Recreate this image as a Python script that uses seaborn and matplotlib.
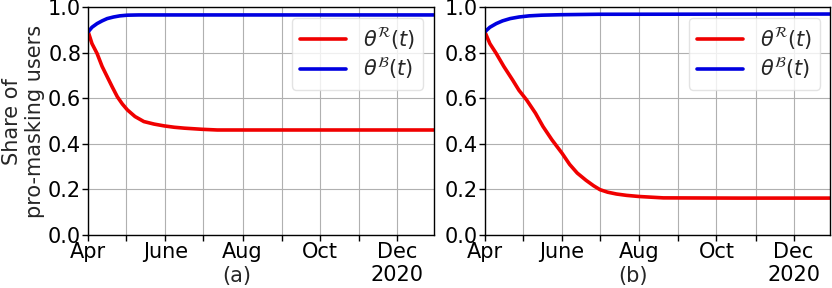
import pandas as pd
import seaborn as sns
import matplotlib.pyplot as plt
import matplotlib.dates as mdates

# values (days after 1 Apr 2020)
days_a_red = [0, 3, 7, 11, 15, 19, 23, 27, 31, 37, 44, 52, 60, 68, 76, 90, 102, 150, 200, 273]
red_a = [0.892, 0.84, 0.797, 0.74, 0.695, 0.65, 0.607, 0.575, 0.549, 0.52, 0.498, 0.487, 0.479, 0.473, 0.469, 0.464, 0.461, 0.461, 0.461, 0.461]
days_a_blue = [0, 3, 7, 11, 15, 20, 25, 31, 40, 60, 273]
blue_a = [0.892, 0.912, 0.928, 0.94, 0.95, 0.957, 0.962, 0.965, 0.966, 0.966, 0.966]

days_b_red = [0, 4, 9, 15, 22, 27, 33, 40, 46, 53, 61, 67, 73, 80, 86, 91, 97, 104, 112, 122, 141, 200, 273]
red_b = [0.892, 0.84, 0.797, 0.74, 0.68, 0.635, 0.593, 0.535, 0.476, 0.418, 0.359, 0.31, 0.272, 0.24, 0.216, 0.199, 0.188, 0.18, 0.174, 0.169, 0.163, 0.162, 0.162]
days_b_blue = [0, 4, 9, 14, 20, 27, 35, 45, 60, 90, 273]
blue_b = [0.892, 0.912, 0.928, 0.94, 0.95, 0.957, 0.962, 0.965, 0.967, 0.969, 0.97]

tick_dates = pd.date_range("2020-04-01", "2020-12-01", freq="MS")
tick_labels = ["Apr", "", "June", "", "Aug", "", "Oct", "", "Dec\n2020"]
panel_tags = ["(a)", "(b)"]

start = pd.Timestamp("2020-04-01")


def make_df(d_red, v_red, d_blue, v_blue):
    r = pd.DataFrame({"date": start + pd.to_timedelta(d_red, unit="D"), "share": v_red,
                      "series": r"$\theta^{\mathcal{R}}(t)$"})
    b = pd.DataFrame({"date": start + pd.to_timedelta(d_blue, unit="D"), "share": v_blue,
                      "series": r"$\theta^{\mathcal{B}}(t)$"})
    return pd.concat([r, b], ignore_index=True)


frames = [make_df(days_a_red, red_a, days_a_blue, blue_a),
          make_df(days_b_red, red_b, days_b_blue, blue_b)]

sns.set_style("ticks")
plt.rcParams["font.family"] = ["DejaVu Sans"]
plt.rcParams["font.size"] = 15

fig, axes = plt.subplots(1, 2, figsize=(8.32, 2.88), dpi=100)
fig.subplots_adjust(left=0.106, right=0.998, top=0.975, bottom=0.184, wspace=0.148)

palette = {r"$\theta^{\mathcal{R}}(t)$": "#f00000", r"$\theta^{\mathcal{B}}(t)$": "#0000e0"}

for ax, df, tag in zip(axes, frames, panel_tags):
    sns.lineplot(data=df, x="date", y="share", hue="series", palette=palette,
                 linewidth=2.6, ax=ax)
    ax.set_xlim(start, pd.Timestamp("2020-12-30"))
    ax.set_ylim(0, 1.0)
    ax.set_yticks([0, 0.2, 0.4, 0.6, 0.8, 1.0])
    ax.set_yticklabels(["0.0", "0.2", "0.4", "0.6", "0.8", "1.0"])
    ax.set_xticks(mdates.date2num(tick_dates))
    ax.set_xticklabels(tick_labels, va="top")
    ax.tick_params(axis="both", labelsize=15, length=4, width=1, pad=1, colors="black")
    ax.grid(True, color="#b0b0b0", linewidth=0.8)
    for s in ax.spines.values():
        s.set_visible(True)
        s.set_color("black")
        s.set_linewidth(1)
    ax.set_xlabel("")
    ax.set_ylabel("")
    ax.text(0.43, -0.18, tag, transform=ax.transAxes, ha="center", va="center", fontsize=15)
    leg = ax.legend(loc="upper right", fontsize=15, handlelength=2.2, borderaxespad=0.5,
                    labelspacing=0.2, borderpad=0.4, framealpha=0.8, edgecolor="#dddddd")
    for line in leg.get_lines():
        line.set_linewidth(2.6)

axes[0].set_ylabel("Share of\npro-masking users", fontsize=15, labelpad=2)

plt.savefig("out.png", dpi=100)
